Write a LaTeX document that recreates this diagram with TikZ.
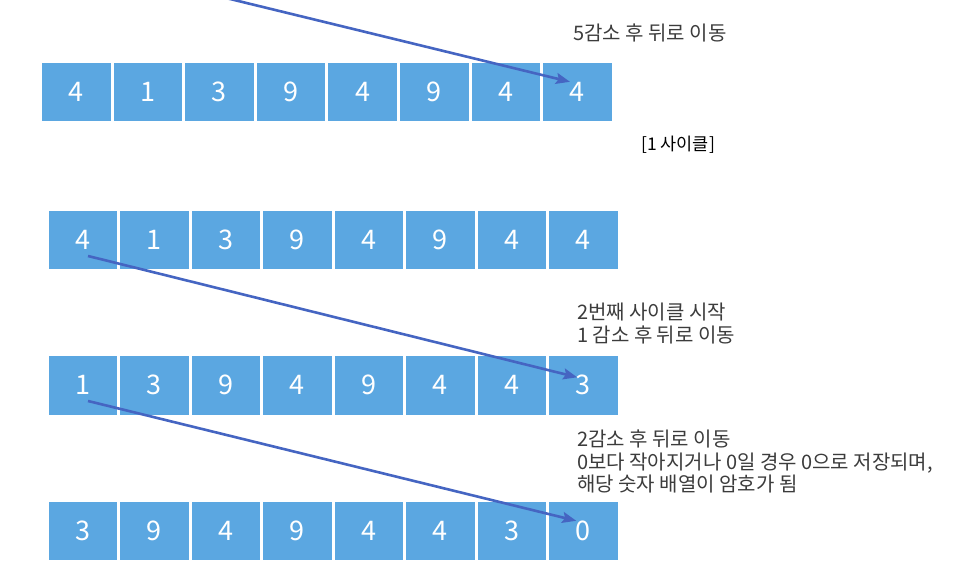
\documentclass[tikz,border=0pt]{standalone}
\usepackage{fontspec}
\setmainfont{Noto Sans CJK KR}
\usetikzlibrary{arrows.meta}
\definecolor{cellblue}{HTML}{5BA7E1}
\definecolor{arrowblue}{HTML}{4565C2}
\definecolor{labelgray}{HTML}{3C3C3C}
\tikzset{
  cell/.style={fill=cellblue, draw=none, minimum width=68.5pt, minimum height=58.5pt,
    inner sep=0pt, text=white, font=\fontsize{27}{30}\selectfont},
  moveline/.style={draw=arrowblue, line width=2.6pt,
    -{Stealth[length=14pt,width=11pt,inset=2.5pt]}},
  note/.style={anchor=west, inner sep=0pt, align=left, text=labelgray,
    font=\fontsize{20}{22.5}\selectfont},
}
\begin{document}
\begin{tikzpicture}[x=1pt,y=-1pt]
\useasboundingbox[fill=white] (0,0) rectangle (962,570);
% row 1
\foreach \v [count=\i] in {4,1,3,9,4,9,4,4}
  \node[cell] (a\i) at ({42+34.25+(\i-1)*71.6},91.8) {\v};
% row 2
\foreach \v [count=\i] in {4,1,3,9,4,9,4,4}
  \node[cell] (b\i) at ({48.5+34.25+(\i-1)*71.5},240) {\v};
% row 3
\foreach \v [count=\i] in {1,3,9,4,9,4,4,3}
  \node[cell] (c\i) at ({48.5+34.25+(\i-1)*71.5},385.3) {\v};
% row 4
\foreach \v [count=\i] in {3,9,4,9,4,4,3,0}
  \node[cell] (d\i) at ({48.5+34.25+(\i-1)*71.5},530.8) {\v};

% labels
\node[note] (n1) at (573,33) {5감소 후 뒤로 이동};
\node[anchor=west, inner sep=0pt, text=black, font=\fontsize{17.5}{20}\selectfont] (n2) at (641,145) {[1 사이클]};
\node[note] (n3) at (577,323.5) {2번째 사이클 시작\\1 감소 후 뒤로 이동};
\node[note] (n4) at (577,461.5) {2감소 후 뒤로 이동\\0보다 작아지거나 0일 경우 0으로 저장되며,\\해당 숫자 배열이 암호가 됨};

% arrows
\coordinate (s0) at (226,-2);
\draw[moveline] (s0) -- ([shift={(-7.5,-10)}]a8.center);
\draw[moveline] ([shift={(5.3,16)}]b1.center) -- ([shift={(-6,-8)}]c8.center);
\draw[moveline] ([shift={(5.3,15.7)}]c1.center) -- ([shift={(-7,-10)}]d8.center);
\end{tikzpicture}
\end{document}
